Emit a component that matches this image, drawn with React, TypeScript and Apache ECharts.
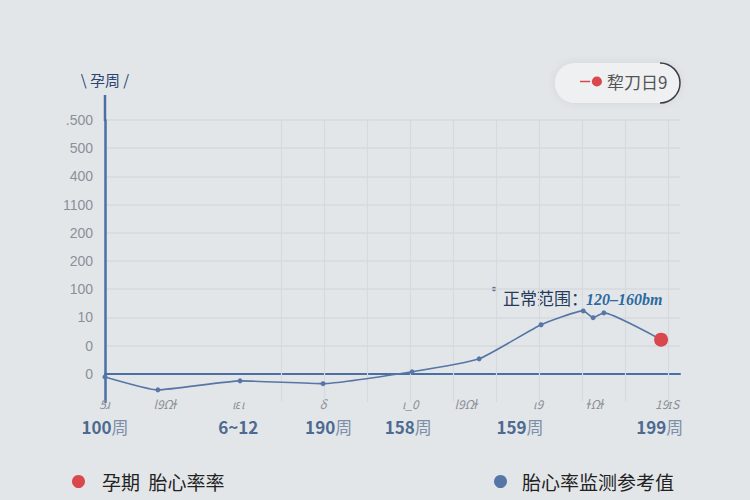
import React, { useEffect, useRef } from 'react';
import * as echarts from 'echarts';

// 纵轴刻度文字（自下而上，值 0..9）
const yLabels = ['0', '0', '10', '100', '200', '200', '1100', '400', '500', '.500'];

// 折线数据：横轴为孕周位置，纵轴为刻度单位
const weeks = [0, 1.23, 3.14, 5.07, 7.14, 8.7, 10.14, 11.12, 11.35, 11.6, 12.93];
const rates = [-0.11, -0.57, -0.25, -0.35, 0.07, 0.53, 1.74, 2.23, 1.99, 2.16, 1.21];

// 当前点（红色）
const currentPoint = [12.93, 1.21];

// 第一行小字刻度
const smallTickPos = [0, 1.4, 3.1, 5.07, 7.1, 8.4, 10.07, 11.4, 13.07];
const smallTickText = ['5ɹ', 'l9Ωɫ', 'ιɛι', 'δ', 'ι_0', 'l9Ωɫ', 'ι9', 'ɫΩɫ', '19ɪS'];

// 第二行孕周刻度
const weekTickPos = [0, 3.1, 5.2, 7.05, 9.65, 12.9];
const weekTickNum = ['100', '6~12', '190', '158', '159', '199'];
const weekTickUnit = ['周', '', '周', '周', '周', '周'];

// 竖向网格线位置
const gridWeeks = [4.1, 5.1, 6.1, 7.1, 8.1, 9.1, 10.1, 11.1, 12.1, 13.1];

const lineName = '胎心率监测参考值';
const pointName = '孕期  胎心率率';
const topName = '犂刀日9';

const findIdx = (arr: number[], v: number) => arr.findIndex((p) => Math.abs(p - v) < 1e-6);

const App = () => {
    const chartRef = useRef<HTMLDivElement>(null);

    useEffect(() => {
        if (!chartRef.current) return;
        const chart = echarts.init(chartRef.current, null, { renderer: 'svg' });
        const blue = '#5676a6';
        const red = '#d9484c';
        const font = '"Noto Sans CJK SC", "Noto Sans", sans-serif';
        const gridColor = '#d6dadf';

        const option: any = {
            animation: false,
            backgroundColor: '#e3e6e9',
            textStyle: { fontFamily: font },
            grid: { left: 105, right: 70, top: 120, bottom: 98 },
            legend: [
                {
                    data: [topName],
                    left: 580,
                    top: 73,
                    padding: 0,
                    icon: 'path://M0,4.2 H12 V5.8 H0 Z M20,5 m-6,0 a6,6 0 1,0 12,0 a6,6 0 1,0 -12,0',
                    itemWidth: 22,
                    itemHeight: 11,
                    textStyle: { color: '#555', fontSize: 17, fontFamily: font },
                },
                {
                    data: [pointName],
                    left: 72,
                    top: 472,
                    padding: 0,
                    icon: 'circle',
                    itemWidth: 13,
                    itemHeight: 13,
                    textStyle: { color: '#222', fontSize: 19, fontFamily: font, padding: [0, 0, 0, 12] },
                },
                {
                    data: [lineName],
                    left: 494,
                    top: 472,
                    padding: 0,
                    icon: 'circle',
                    itemWidth: 13,
                    itemHeight: 13,
                    textStyle: { color: '#222', fontSize: 19, fontFamily: font, padding: [0, 0, 0, 10] },
                },
            ],
            xAxis: [
                {
                    type: 'value',
                    min: 0,
                    max: 13.37,
                    axisLine: { show: true, onZero: true, lineStyle: { color: '#4a6fa5', width: 2 } },
                    axisTick: { show: false },
                    splitLine: { show: false },
                    axisLabel: {
                        customValues: smallTickPos,
                        margin: -5,
                        color: '#8c9198',
                        fontSize: 12,
                        fontStyle: 'italic',
                        formatter: (v: number) => {
                            const i = findIdx(smallTickPos, v);
                            return i >= 0 ? smallTickText[i] : '';
                        },
                    },
                },
                {
                    type: 'value',
                    position: 'bottom',
                    min: 0,
                    max: 13.37,
                    axisLine: { show: false, onZero: false },
                    axisTick: { show: false },
                    splitLine: { show: false },
                    axisLabel: {
                        customValues: weekTickPos,
                        margin: 16,
                        formatter: (v: number) => {
                            const i = findIdx(weekTickPos, v);
                            if (i < 0) return '';
                            return '{n|' + weekTickNum[i] + '}' + (weekTickUnit[i] ? '{z|' + weekTickUnit[i] + '}' : '');
                        },
                        rich: {
                            n: { fontSize: 17, fontWeight: 'bold', color: '#4d6a91', fontFamily: font },
                            z: { fontSize: 17, color: '#7d8fa8', fontFamily: font },
                        },
                    },
                },
            ],
            yAxis: {
                type: 'value',
                min: -1,
                max: 9,
                interval: 1,
                name: '\\ 孕周 /',
                nameLocation: 'end',
                nameGap: 33,
                nameTextStyle: { color: '#2b4470', fontSize: 15, align: 'center', fontFamily: font },
                axisLine: { show: true, lineStyle: { color: '#4a6fa5', width: 2.5 } },
                axisTick: { show: false },
                axisLabel: {
                    margin: 12,
                    color: '#8a9098',
                    fontSize: 14,
                    fontFamily: 'Liberation Sans, Arial, sans-serif',
                    formatter: (v: number) => yLabels[v] ?? '',
                },
                splitLine: {
                    show: true,
                    lineStyle: {
                        color: ['transparent', gridColor, gridColor, gridColor, gridColor, gridColor, gridColor, gridColor, gridColor, gridColor, gridColor],
                        width: 1.5,
                    },
                },
            },
            series: [
                {
                    name: lineName,
                    type: 'line',
                    data: weeks.map((w, i) => [w, rates[i]]),
                    smooth: 0.15,
                    symbol: 'circle',
                    symbolSize: 5,
                    color: blue,
                    lineStyle: { color: blue, width: 1.6 },
                    z: 3,
                    markLine: {
                        silent: true,
                        symbol: 'none',
                        label: { show: false },
                        lineStyle: { color: gridColor, width: 1.2, type: 'solid' },
                        data: gridWeeks.map((w) => ({ xAxis: w })),
                        z: 1,
                    },
                },
                {
                    name: pointName,
                    type: 'scatter',
                    data: [currentPoint],
                    symbolSize: 14,
                    color: red,
                    itemStyle: { color: red, opacity: 1 },
                    z: 4,
                },
                {
                    name: topName,
                    type: 'line',
                    data: [],
                    color: red,
                    itemStyle: { color: red },
                    lineStyle: { color: red },
                },
            ],
            graphic: [
                {
                    type: 'rect',
                    shape: { x: 555, y: 63, width: 125, height: 40, r: 20 },
                    style: { fill: '#eef0f2', shadowBlur: 8, shadowColor: 'rgba(0,0,0,0.08)' },
                    z: -1,
                },
                {
                    type: 'arc',
                    shape: { cx: 660, cy: 83, r: 20, startAngle: -Math.PI / 2, endAngle: Math.PI / 2, clockwise: true },
                    style: { stroke: '#3a3f46', lineWidth: 1.5, fill: 'none' },
                },
                {
                    type: 'line',
                    shape: { x1: 105, y1: 95, x2: 105, y2: 121 },
                    style: { stroke: '#4a6fa5', lineWidth: 2.5 },
                },
                {
                    type: 'circle',
                    shape: { cx: 494, cy: 289, r: 2.2 },
                    style: { fill: '#5d6f8c' },
                },
                {
                    type: 'text',
                    x: 503,
                    y: 297,
                    style: {
                        text: '正常范围：',
                        fontSize: 17,
                        fill: '#263a5a',
                        fontFamily: font,
                        verticalAlign: 'middle',
                    },
                },
                {
                    type: 'text',
                    x: 586,
                    y: 299,
                    style: {
                        text: '120–160bm',
                        fontSize: 16,
                        fontStyle: 'italic',
                        fontWeight: 'bold',
                        fill: '#2c6aa0',
                        fontFamily: '"Liberation Serif", "DejaVu Serif", serif',
                        verticalAlign: 'middle',
                    },
                },
            ],
        };

        chart.setOption(option);
        return () => {
            chart.dispose();
        };
    }, []);

    return <div ref={chartRef} style={{ position: 'absolute', left: 0, top: 0, width: 750, height: 500 }}></div>;
};

export default App;
